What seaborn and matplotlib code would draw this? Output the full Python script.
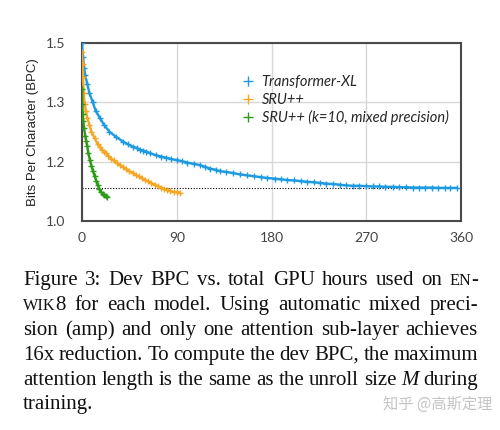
import numpy as np
import pandas as pd
import seaborn as sns
import matplotlib.pyplot as plt
from matplotlib.lines import Line2D

# GPU hours vs dev BPC
txl_hours = [0, 1, 2, 3, 5, 7, 10, 13, 17, 21, 26, 32, 39, 44, 48, 52, 55, 58, 61, 65,
             70, 75, 80, 85, 90, 95, 100, 106, 112, 117, 122, 127, 131, 137, 143, 150,
             157, 163, 170, 176, 183, 189, 195, 201, 208, 214, 220, 226, 232, 238, 245,
             251, 257, 263, 270, 276, 282, 288, 295, 301, 308, 314, 320, 326, 332, 338,
             345, 350, 356]
txl_bpc = [1.50, 1.46, 1.43, 1.41, 1.385, 1.36, 1.335, 1.31, 1.289, 1.27, 1.251, 1.237,
           1.223, 1.215, 1.209, 1.205, 1.200, 1.198, 1.195, 1.190, 1.185, 1.181, 1.178,
           1.174, 1.171, 1.168, 1.164, 1.161, 1.157, 1.152, 1.147, 1.144, 1.140, 1.138,
           1.135, 1.131, 1.128, 1.126, 1.123, 1.121, 1.119, 1.117, 1.115, 1.114, 1.112,
           1.110, 1.109, 1.107, 1.105, 1.104, 1.102, 1.100, 1.099, 1.099, 1.098, 1.097,
           1.097, 1.096, 1.096, 1.095, 1.095, 1.094, 1.094, 1.094, 1.094, 1.093, 1.093,
           1.093, 1.093]

sru_hours = [0, 0.5, 1, 1.5, 2.5, 3.5, 5, 7, 9, 12, 15, 17, 19, 21, 23, 25, 28, 30, 33,
             36, 39, 42, 45, 48, 51, 54, 57, 60, 63, 66, 69, 72, 75, 78, 81, 84, 87, 90, 93]
sru_bpc = [1.476, 1.44, 1.405, 1.36, 1.33, 1.31, 1.29, 1.27, 1.25, 1.233, 1.215, 1.207,
           1.20, 1.195, 1.19, 1.183, 1.175, 1.170, 1.163, 1.157, 1.152, 1.146, 1.14, 1.135,
           1.13, 1.125, 1.12, 1.115, 1.111, 1.106, 1.102, 1.098, 1.094, 1.090, 1.087,
           1.084, 1.082, 1.081, 1.080]

amp_hours = [0, 0.3, 0.7, 1.2, 2, 3, 4, 5, 6, 7.5, 9, 10.5, 12, 13.5, 15, 16.5, 18,
             19.5, 21, 22.5, 24]
amp_bpc = [1.37, 1.33, 1.30, 1.28, 1.26, 1.24, 1.225, 1.21, 1.19, 1.172, 1.155, 1.14,
           1.126, 1.113, 1.10, 1.09, 1.082, 1.076, 1.072, 1.069, 1.067]

target_bpc = 1.093
labels = ["Transformer-XL", "SRU++", "SRU++ (k=10, mixed precision)"]
colors = ["#1e9be0", "#f5a623", "#2e9a17"]
x_ticks = [0, 90, 180, 270, 360]

caption = [
    [[("Figure", 0)], [("3:", 0)], [("Dev", 0)], [("BPC", 0)], [("vs.", 0)],
     [("total", 0)], [("GPU", 0)], [("hours", 0)], [("used", 0)], [("on", 0)],
     [("EN", 1), ("-", 0)]],
    [[("WIK", 1), ("8", 0)], [("for", 0)], [("each", 0)], [("model.", 0)],
     [("Using", 0)], [("automatic", 0)], [("mixed", 0)], [("preci-", 0)]],
    [[("sion", 0)], [("(amp)", 0)], [("and", 0)], [("only", 0)], [("one", 0)],
     [("attention", 0)], [("sub-layer", 0)], [("achieves", 0)]],
    [[("16x", 0)], [("reduction.", 0)], [("To", 0)], [("compute", 0)], [("the", 0)],
     [("dev", 0)], [("BPC,", 0)], [("the", 0)], [("maximum", 0)]],
    [[("attention", 0)], [("length", 0)], [("is", 0)], [("the", 0)], [("same", 0)],
     [("as", 0)], [("the", 0)], [("unroll", 0)], [("size", 0)], [("M", 2)],
     [("during", 0)]],
    [[("training.", 0)]],
]

sns.set_style("white")

W, H = 500, 430
fig = plt.figure(figsize=(W / 100, H / 100), dpi=100)
ax = fig.add_axes([82 / W, 1 - 221 / H, (461 - 82) / W, (221 - 43) / H])

for hrs, bpc, lab, col in zip([txl_hours, sru_hours, amp_hours],
                              [txl_bpc, sru_bpc, amp_bpc], labels, colors):
    sns.lineplot(x=hrs, y=bpc, ax=ax, color=col, marker="+", markersize=5,
                 markeredgewidth=1.0, markeredgecolor=col, linewidth=1.7,
                 sort=False, zorder=3)

ax.axhline(target_bpc, color="black", linestyle=(0, (1, 1.5)), linewidth=0.8, zorder=2)

ax.set_xlim(0, 360)
ax.set_ylim(1.0, 1.5)
ax.set_xticks(x_ticks)
yt = np.linspace(1.0, 1.5, 4)
ax.set_yticks(yt)
ax.set_yticklabels([f"{v:.1f}" for v in yt])
ax.grid(True, color="#d8d8d8", linewidth=1.0)
ax.set_axisbelow(True)
ax.tick_params(length=0, labelsize=10, labelcolor="#444444")
ax.tick_params(axis="y", pad=12)
ax.tick_params(axis="x", pad=8)
for lab in ax.get_xticklabels() + ax.get_yticklabels():
    lab.set_family("Lato")
for sp in ax.spines.values():
    sp.set_color("#4a4a4a")
    sp.set_linewidth(1.5)
ax.set_ylabel("Bits Per Character (BPC)", family="Liberation Sans", fontsize=9.5,
              color="#222222", labelpad=5)

handles = [Line2D([], [], linestyle="none", marker="+", markersize=7,
                  markeredgewidth=1.0, color=c) for c in colors]
ax.legend(handles, labels, loc="upper left", bbox_to_anchor=(228 / W, 1 - 62 / H),
          bbox_transform=fig.transFigure, frameon=False, handletextpad=0.4,
          labelspacing=0.25, handlelength=1.0,
          prop={"family": "Lato", "style": "italic", "size": 10.5})

# caption, justified word by word
renderer = fig.canvas.get_renderer()
fs = 15.0
left, right = 23, 478
baselines = [285, 310, 335, 360, 385, 409]


def piece_props(kind):
    if kind == 1:
        return dict(fontsize=fs * 0.78, family="Liberation Serif")
    if kind == 2:
        return dict(fontsize=fs, family="Liberation Serif", style="italic")
    return dict(fontsize=fs, family="Liberation Serif")


def width_of(s, kind):
    t = fig.text(0, 0, s, **piece_props(kind))
    w = t.get_window_extent(renderer).width
    t.remove()
    return w


space_w = width_of("a b", 0) - width_of("ab", 0)
for i, (line, base) in enumerate(zip(caption, baselines)):
    widths = [sum(width_of(s, k) for s, k in word) for word in line]
    if i < len(caption) - 1 and len(line) > 1:
        gap = (right - left - sum(widths)) / (len(line) - 1)
    else:
        gap = space_w
    x = left
    for word, w in zip(line, widths):
        px = x
        for s, k in word:
            fig.text(px / W, 1 - base / H, s, va="baseline", ha="left", color="#111111",
                     **piece_props(k))
            px += width_of(s, k)
        x += w + gap

fig.text(383 / W, 1 - 409 / H, "知乎 @高斯定理", family=["Noto Sans CJK SC", "DejaVu Sans"],
         fontsize=11, color="#c4c4c4", va="baseline", ha="left")

fig.savefig("out.png", dpi=100)
